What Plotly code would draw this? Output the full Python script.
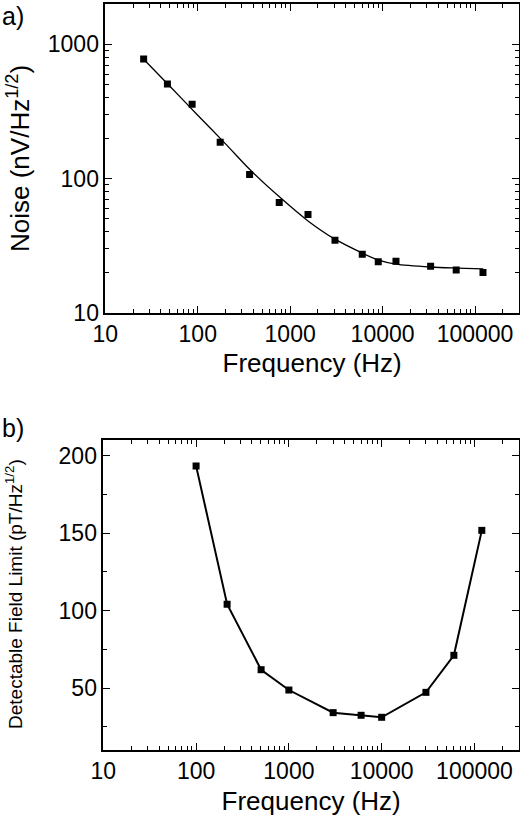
import plotly.graph_objects as go

# a) measured noise spectrum
noise_freq = [26, 47, 87, 175, 364, 762, 1560, 3055, 6030, 8980, 13960, 33100, 62600, 122000]
noise_val = [778, 506, 357, 186, 107, 66.2, 54, 34.7, 27.3, 24.0, 24.2, 22.2, 20.8, 19.9]

# fitted curve through the noise points
fit_freq = [26, 50, 100, 200, 364, 759, 1560, 3055, 6030, 9020, 13960, 33100, 62600, 123000]
fit_val = [773, 486, 296, 181, 117, 73.3, 48.3, 35.3, 27.8, 24.6, 23.0, 21.9, 21.5, 21.2]

# b) detectable field limit
field_freq = [100, 216, 502, 1000, 3000, 6000, 10000, 30000, 60000, 120000]
field_val = [193.3, 104.1, 61.8, 48.7, 34.1, 32.4, 31.1, 47.2, 71.1, 151.7]

W, H = 520, 816
FONT = "Liberation Sans, Arial, sans-serif"


def px(x):
    return x / W


def py(y):
    return 1 - y / H


sq = dict(symbol="square", size=7, color="black")

fig = go.Figure()
fig.add_trace(go.Scatter(x=fit_freq, y=fit_val, mode="lines",
                         line=dict(color="black", width=1.3, shape="spline", smoothing=0.8),
                         xaxis="x", yaxis="y"))
fig.add_trace(go.Scatter(x=noise_freq, y=noise_val, mode="markers", marker=sq,
                         xaxis="x", yaxis="y"))
fig.add_trace(go.Scatter(x=field_freq, y=field_val, mode="lines+markers",
                         line=dict(color="black", width=2), marker=sq,
                         xaxis="x2", yaxis="y2"))

common = dict(showline=True, linecolor="black", linewidth=1.5, mirror="ticks",
              ticks="inside", ticklen=7, tickwidth=1.3, tickcolor="black",
              showgrid=False, zeroline=False, automargin=False,
              tickfont=dict(size=23, color="black", family=FONT))
logminor = dict(ticks="inside", ticklen=4, tickwidth=1.1, tickcolor="black",
                dtick="D1", showgrid=False)

fig.update_layout(
    width=W, height=H,
    margin=dict(l=0, r=0, t=0, b=0),
    paper_bgcolor="white", plot_bgcolor="white",
    showlegend=False,
    font=dict(family=FONT, color="black"),
    xaxis=dict(common, type="log", range=[1, 5.476], dtick=1, tickformat="d",
               domain=[px(105.3), px(519)], anchor="y", minor=logminor,
               title=dict(text="Frequency (Hz)", font=dict(size=26), standoff=8)),
    yaxis=dict(common, type="log", range=[1, 3.3], dtick=1, tickformat="d",
               domain=[py(312.7), py(4)], anchor="x", minor=logminor),
    xaxis2=dict(common, type="log", range=[1, 5.48], dtick=1, tickformat="d",
                domain=[px(103.3), px(519)], anchor="y2", minor=logminor,
                title=dict(text="Frequency (Hz)", font=dict(size=26), standoff=8)),
    yaxis2=dict(common, range=[10, 210], tickvals=[50, 100, 150, 200],
                domain=[py(750), py(440)], anchor="x2",
                minor=dict(ticks="inside", ticklen=4, tickwidth=1.1, tickcolor="black",
                           tickvals=[25, 75, 125, 175], showgrid=False)),
    annotations=[
        dict(text="a)", x=0, y=1, xref="paper", yref="paper", xanchor="left",
             yanchor="top", showarrow=False, font=dict(size=25)),
        dict(text="b)", x=0, y=py(412), xref="paper", yref="paper", xanchor="left",
             yanchor="top", showarrow=False, font=dict(size=25)),
        dict(text="Noise (nV/Hz<sup>1/2</sup>)", textangle=-90, x=px(19), y=py(159),
             xref="paper", yref="paper", xanchor="center", yanchor="middle",
             showarrow=False, font=dict(size=26)),
        dict(text="Detectable Field Limit (pT/Hz<sup>1/2</sup>)", textangle=-90,
             x=px(14), y=py(594), xref="paper", yref="paper", xanchor="center",
             yanchor="middle", showarrow=False, font=dict(size=19)),
    ],
)

# page body has a default 8px margin that would push the figure off the window
fig.write_html("out.html", config={"displayModeBar": False},
               post_script="document.body.style.margin='0';")
